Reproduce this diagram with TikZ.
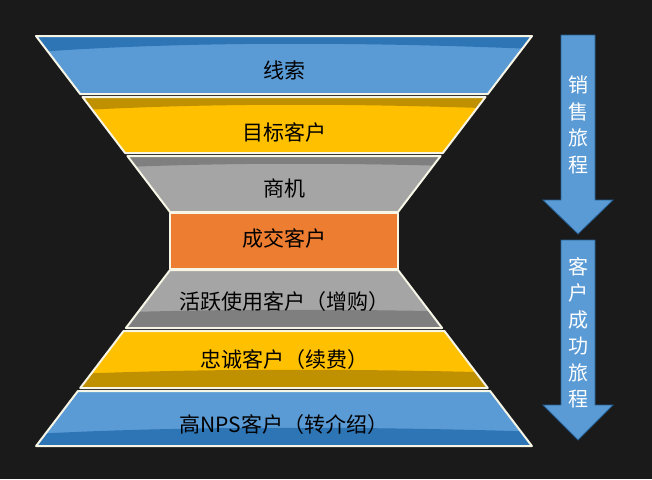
\documentclass[tikz,border=0pt]{standalone}
\usepackage{fontspec}
\setmainfont{Noto Sans CJK SC}
\newfontfamily\cjk{Noto Sans CJK SC}
\definecolor{bg}{HTML}{1A1A1A}
\definecolor{bl}{HTML}{5B9BD5}\definecolor{bld}{HTML}{2E75B6}
\definecolor{yl}{HTML}{FFC000}\definecolor{yld}{HTML}{BF9000}
\definecolor{gr}{HTML}{A5A5A5}\definecolor{grd}{HTML}{7F7F7F}
\definecolor{org}{HTML}{ED7D31}\definecolor{edge}{HTML}{F7F5E6}
\tikzset{
  bandlabel/.style={font=\cjk\fontsize{21}{24}\selectfont, text=black, inner sep=0pt},
  bandedge/.style={draw=edge, line width=2pt, line join=round},
  arrowtext/.style={font=\cjk\fontsize{20}{26.5}\selectfont, text=white, align=center, inner sep=0pt},
  journey/.style={fill=bl, draw=bld!80!black, line width=0.8pt},
}
% top band: dark strip on top
\newcommand\topband[7]{% y0 y1 xl0 xl1 light dark
  \begin{scope}
    \clip (#3,#1) -- ({568-#3},#1) -- ({568-#4},#2) -- (#4,#2) -- cycle;
    \fill[#5] (0,#1) rectangle (652,#2);
    \fill[#6] (0,#1) -- (652,#1) -- (652,#1+19) .. controls (400,#1+4) and (168,#1+4) .. (0,#1+19) -- cycle;
  \end{scope}
  \draw[bandedge] (#3,#1) -- ({568-#3},#1) -- ({568-#4},#2) -- (#4,#2) -- cycle;
}
\newcommand\botband[7]{%
  \begin{scope}
    \clip (#3,#1) -- ({568-#3},#1) -- ({568-#4},#2) -- (#4,#2) -- cycle;
    \fill[#5] (0,#1) rectangle (652,#2);
    \fill[#6] (0,#2) -- (652,#2) -- (652,#2-10) .. controls (400,#2-21) and (168,#2-21) .. (0,#2-10) -- cycle;
  \end{scope}
  \draw[bandedge] (#3,#1) -- ({568-#3},#1) -- ({568-#4},#2) -- (#4,#2) -- cycle;
}
\begin{document}
\begin{tikzpicture}[x=1pt,y=-1pt]
\fill[bg] (0,0) rectangle (652,479);
\useasboundingbox (0,0) rectangle (652,479);
\topband{36}{94}{36}{80.2}{bl}{bld}{}
\topband{97}{153}{82.5}{125.1}{yl}{yld}{}
\topband{156}{212}{127.4}{170}{gr}{grd}{}
\fill[org] (170,213) rectangle (398,269);
\draw[bandedge] (170,213) rectangle (398,269);
\botband{270}{328}{170}{125.9}{gr}{grd}{}
\botband{331}{388}{123.6}{80.2}{yl}{yld}{}
\botband{391}{446}{77.9}{36.1}{bl}{bld}{}
\node[bandlabel] (l1) at (284,70) {线索};
\node[bandlabel] (l2) at (284,132) {目标客户};
\node[bandlabel] (l3) at (284,188) {商机};
\node[bandlabel] (l4) at (284,238) {成交客户};
\node[bandlabel] (l5) at (284,302) {活跃使用客户（增购）};
\node[bandlabel] (l6) at (284,360) {忠诚客户（续费）};
\node[bandlabel] (l7) at (284,425) {高NPS客户（转介绍）};
\draw[journey] (561,35) -- (595,35) -- (595,200) -- (613,200) -- (578,234) -- (543,200) -- (561,200) -- cycle;
\draw[journey] (561,240) -- (595,240) -- (595,405) -- (613,405) -- (578,440) -- (543,405) -- (561,405) -- cycle;
\node[arrowtext] (a1) at (578,125) {销\\售\\旅\\程};
\node[arrowtext] (a2) at (578,333) {客\\户\\成\\功\\旅\\程};
\end{tikzpicture}
\end{document}
